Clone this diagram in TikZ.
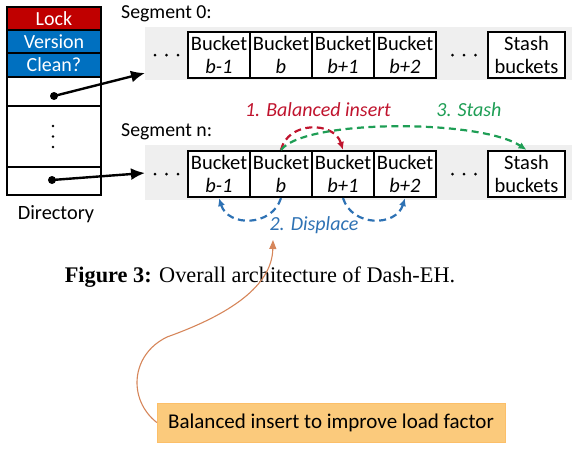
\documentclass[tikz,border=0pt]{standalone}
\usepackage{fontspec}
\setmainfont{Carlito}
\newfontfamily\capfont{Liberation Serif}
\usetikzlibrary{arrows.meta,positioning}
\definecolor{lockred}{HTML}{C00000}
\definecolor{verblue}{HTML}{0070C0}
\definecolor{insred}{HTML}{C0142E}
\definecolor{stashgreen}{HTML}{1E9E55}
\definecolor{dispblue}{HTML}{2E72B4}
\definecolor{segbg}{HTML}{EFEFEF}
\definecolor{noteorange}{HTML}{FBCA7C}
\definecolor{notebrown}{HTML}{D6865A}
\tikzstyle{dircell} = [draw=black, line width=2.2pt, minimum width=94pt,
    inner sep=0, font=\fontsize{20}{22}\selectfont]
\tikzstyle{bucketbox} = [draw=black, fill=white, line width=2.2pt, minimum width=62pt,
    minimum height=46pt, align=center, inner sep=0, font=\fontsize{20.5}{23}\selectfont]
\tikzstyle{segback} = [fill=segbg, minimum width=427pt, inner sep=0]
\tikzstyle{seglabel} = [anchor=west, inner sep=0, font=\fontsize{19.8}{22}\selectfont]
\tikzstyle{steplabel} = [inner sep=0, font=\fontsize{20}{22}\selectfont\itshape]
\tikzstyle{movearrow} = [line width=2.2pt, dash pattern=on 7pt off 4.5pt,
    -{Latex[length=8pt,width=7pt]}]
\tikzstyle{pointer} = [line width=2.4pt, -{Latex[length=14pt,width=12pt]}]

\begin{document}
\begin{tikzpicture}[x=1pt, y=-1pt]
    \useasboundingbox (0,0) rectangle (582,448);
    % directory
    \node [dircell, fill=lockred, text=white, minimum height=23pt] (lock) at (54,18.5) {Lock};
    \node [dircell, fill=verblue, text=white, minimum height=23pt] (version) at (54,41.5) {Version};
    \node [dircell, fill=verblue, text=white, minimum height=24pt] (clean) at (54,65) {Clean?};
    \node [dircell, minimum height=29pt] (cell0) at (54,91.5) {};
    \node [dircell, minimum height=61pt] (cellmid) at (54,136.5) {};
    \node [dircell, minimum height=28pt] (celln) at (54,181) {};
    \foreach \y in {126,136.5,147}
        \fill (53,\y) circle (1.4pt);
    \node [seglabel, anchor=center, font=\fontsize{20.3}{22}\selectfont] (dirlabel) at (56,214) {Directory};
    % segments
    \node [segback, minimum height=53pt] (seg0bg) at (358.5,53.5) {};
    \node [segback, minimum height=55pt] (segnbg) at (358.5,172.5) {};
    \node [seglabel] (seg0label) at (121,14) {Segment 0:};
    \node [seglabel] (segnlabel) at (121,132) {Segment n:};
    \foreach \row/\y in {0/55,n/174} {
        \node [bucketbox] (b\row m1) at (219,\y) {Bucket\\\textit{b-1}};
        \node [bucketbox] (b\row 0) at (281,\y) {Bucket\\\textit{b}};
        \node [bucketbox] (b\row 1) at (343,\y) {Bucket\\\textit{b+1}};
        \node [bucketbox] (b\row 2) at (405,\y) {Bucket\\\textit{b+2}};
        \node [bucketbox, minimum width=77pt] (stash\row) at (526.5,\y) {Stash\\buckets};
        \foreach \x in {155,166.5,178,452.5,464,475.5}
            \fill (\x,\y) circle (1.5pt);
    }
    % pointers
    \node [circle, fill=black, inner sep=0, minimum size=8pt] (ptr0) at (54,96) {};
    \node [circle, fill=black, inner sep=0, minimum size=8pt] (ptrn) at (52,180) {};
    \coordinate (in0) at (145,73);
    \coordinate (inn) at (145,173);
    \draw [pointer] (ptr0.center) -- (in0);
    \draw [pointer] (ptrn.center) -- (inn);
    % moves
    \draw [movearrow, insred] (bn0.north) .. controls (288,121) and (334,121) .. (bn1.north);
    \draw [movearrow, stashgreen] (bn0.north) .. controls (305,119) and (480,119) .. (stashn.north);
    \draw [movearrow, dispblue] (bn0.south) .. controls (272,227) and (228,227) .. (bnm1.south);
    \draw [movearrow, dispblue] (bn1.south) .. controls (352,227) and (396,227) .. (bn2.south);
    \node [steplabel, text=insred] (inslabel) at (318,110) {1. Balanced insert};
    \node [steplabel, text=stashgreen] (stashlabel) at (469,110) {3. Stash};
    \node [steplabel, text=dispblue] (displabel) at (314,225) {2. Displace};
    % caption
    \node [inner sep=0, font=\capfont\fontsize{22.3}{26}\selectfont] (caption) at (260,277)
        {\textbf{Figure 3:} Overall architecture of Dash-EH.};
    % note
    \node [fill=noteorange, draw=noteorange!85!orange, minimum width=348pt, minimum height=39pt,
        inner sep=0, font=\fontsize{21}{24}\selectfont] (note) at (331,422.5)
        {Balanced insert to improve load factor};
    \coordinate (notetip) at (273,240);
    \draw [notebrown, line width=1.1pt, -{Triangle[length=9pt,width=7pt]}]
        (note.west) .. controls (128,400) and (130,355) .. (167,337)
        .. controls (220,318) and (272,290) .. (notetip);
\end{tikzpicture}
\end{document}
